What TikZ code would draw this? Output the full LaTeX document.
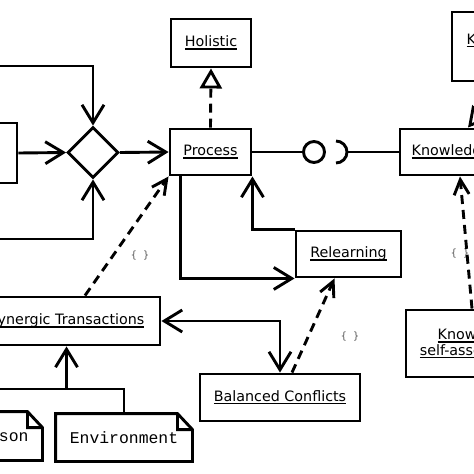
\documentclass[tikz,border=0pt]{standalone}
\usepackage{fontspec}
\usetikzlibrary{arrows.meta,shapes.geometric}
\newfontfamily\boxfont{DejaVu Sans}
\newfontfamily\notefont{Liberation Mono}
\newfontfamily\bracefont{DejaVu Sans Mono}
\newcommand{\ulabel}[1]{\setbox0\hbox{#1}\rlap{\rule[-3pt]{\wd0}{1.5pt}}\box0}

\begin{document}
\begin{tikzpicture}[x=1pt, y=-1pt, line width=2.9pt,
        >={Straight Barb[length=18pt,width=22pt]},
        cls/.style={rectangle, draw=black, inner sep=0pt, font=\boxfont\fontsize{14.3}{15.5}\selectfont},
        note/.style={rectangle, inner sep=0pt, font=\notefont\fontsize{16.4}{18}\selectfont},
        brace/.style={font=\bracefont\fontsize{10}{11}\selectfont, text=black!65},
        dep/.style={dash pattern=on 9pt off 6pt, -{Straight Barb[length=15pt,width=15pt]}},
        real/.style={dash pattern=on 9pt off 6pt, -{Triangle[open,length=20pt,width=22pt]}}]
                \useasboundingbox (0,0) rectangle (474,474);
                \clip (0,0) rectangle (474,474);
                \node[cls, minimum width=78, minimum height=60] (src) at (-22,153) {};
                \node[cls, diamond, minimum width=51, minimum height=51] (dia) at (93,152.5) {};
                \node[cls, minimum width=80, minimum height=48] (hol) at (211,43) {\ulabel{Holistic}};
                \node[cls, minimum width=81, minimum height=46] (proc) at (210.5,152) {\ulabel{Process}};
                \node[cls, minimum width=102, minimum height=46] (know) at (451,152) {\ulabel{Knowledge}};
                \node[cls, minimum width=108, minimum height=69, align=left] (kbase) at (506,46.5) {\ulabel{Knowledge}\\ \mbox{}};
                \node[cls, minimum width=105, minimum height=46] (rel) at (348.5,254) {\ulabel{Relearning}};
                \node[cls, minimum width=160, minimum height=47] (bal) at (280,397.5) {\ulabel{Balanced Conflicts}};
                \node[cls, minimum width=187, minimum height=48] (syn) at (66.5,321) {\ulabel{Synergic Transactions}};
                \node[cls, minimum width=142, minimum height=67, align=center] (kself) at (477,343.5) {\ulabel{Knowledge}\\\ulabel{self-assessment}};
                \node[note, minimum width=134, minimum height=45] (env) at (124,437.5) {Environment};
                \node[note, minimum width=84, minimum height=46] (per) at (-1,436) {Person};
                \node[circle, draw, minimum size=21, inner sep=0pt] (ball) at (314,152) {};
                \node[brace] (c1) at (140,256) {\{ \}};
                \node[brace] (c2) at (350,337) {\{ \}};
                \node[brace] (c3) at (460,254) {\{ \}};
                \coordinate (sock) at (336,152);
                \coordinate (topsrc) at (-20,66);
                \coordinate (botsrc) at (-20,239);
                \coordinate (join) at (66.5,389);
                % note outlines with folded corner
                \foreach \n in {per,env}
                    \draw (\n.north west) -- ([xshift=-15pt]\n.north east) -- ([yshift=-16pt]\n.north east)
                        -- (\n.south east) -- (\n.south west) -- cycle
                        ([xshift=-15pt]\n.north east) |- ([yshift=-16pt]\n.north east);
                \draw[->] (topsrc) -| (dia.north);
                \draw[->] (botsrc) -| (dia.south);
                \draw[->] (src.east) -- (dia.west);
                \draw[->] (dia.east) -- (proc.west);
                \draw[real] (proc.north) -- (hol.south);
                \draw (proc.east) -- (ball.west);
                \draw ([yshift=11pt]sock) arc[start angle=90, end angle=-90, radius=11pt];
                \draw ([xshift=11pt]sock) -- (know.west);
                \draw[real] (kbase.south) -- ([xshift=17pt]know.north);
                \draw[dep] ([xshift=-5pt]kself.north) -- ([xshift=9pt]know.south);
                \draw[->] ([xshift=11.5pt]proc.south west) |- (rel.south west);
                \draw[->] (rel.north west) -| (proc.south east);
                \draw[dep] ([xshift=18.5pt]syn.north) -- (proc.south west);
                \draw[dep] ([xshift=12pt]bal.north) -- ([xshift=-14pt]rel.south);
                \draw[<->] (syn.east) -| (bal.north);
                \draw[->] (join) -- (syn.south);
                \draw (per.north) |- (join) -| (env.north);
\end{tikzpicture}
\end{document}
